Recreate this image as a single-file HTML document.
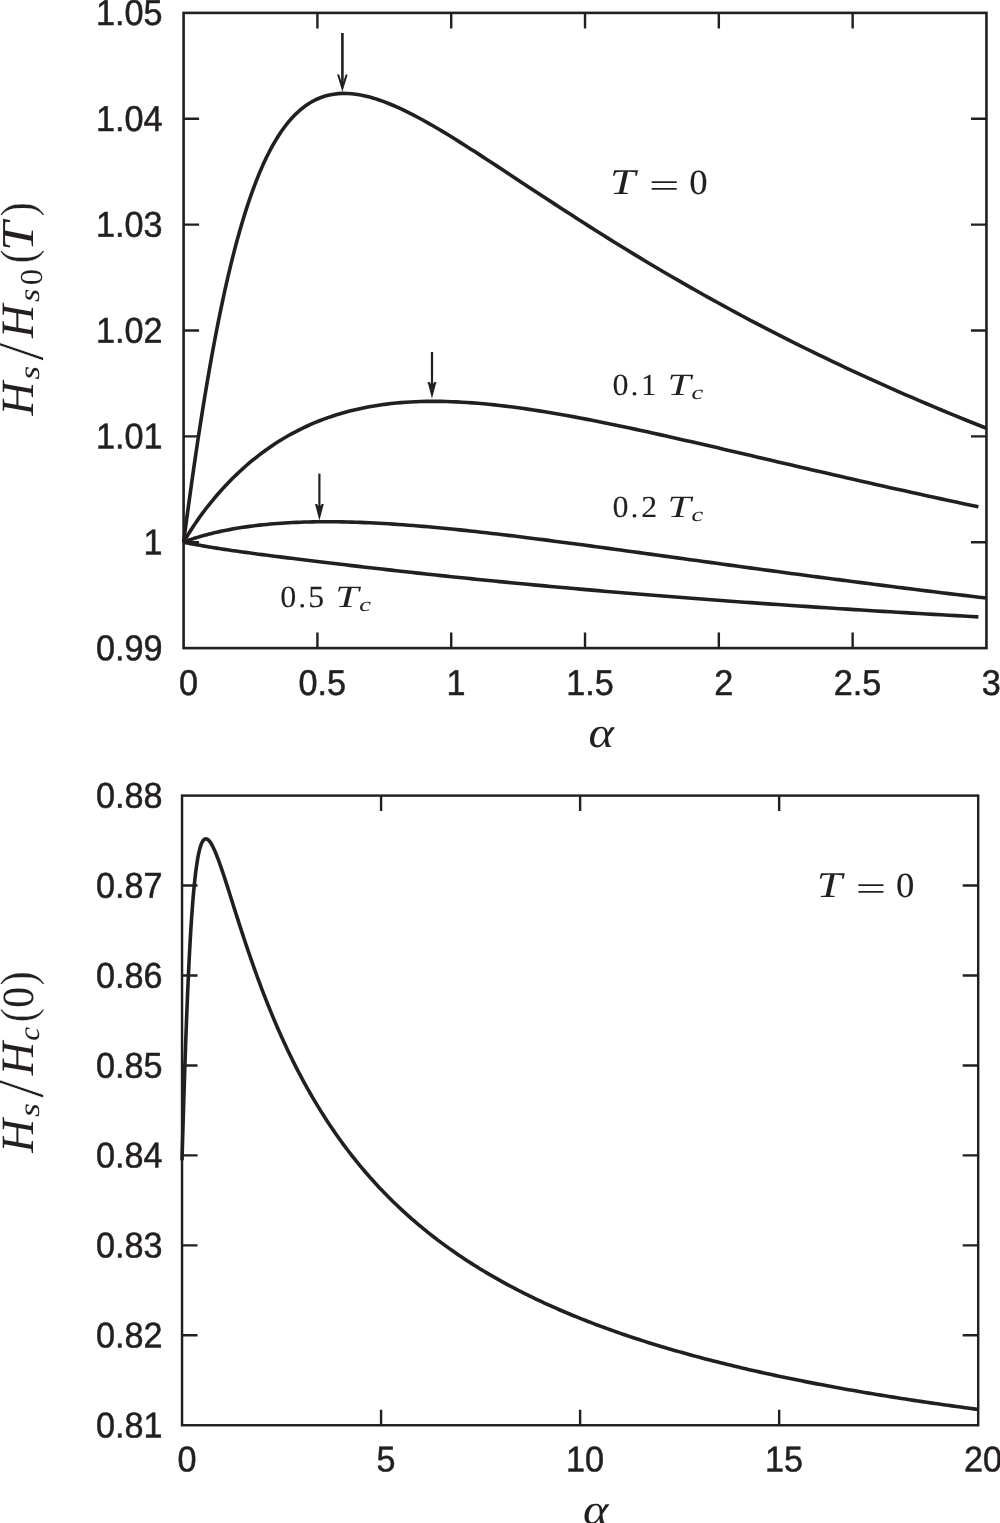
<!DOCTYPE html>
<html lang="en"><head><meta charset="utf-8"><title>Superheating field vs impurity parameter</title>
<style>html,body{margin:0;padding:0;background:#fff}svg{display:block}text{text-rendering:geometricPrecision}.tk,.sa{font-family:"Liberation Sans",sans-serif;fill:#231f20}.tk{font-size:34.2px;stroke:#231f20;stroke-width:0.5px}.se{font-family:"Liberation Serif",serif;fill:#231f20}.it{font-style:italic}.ax{stroke:#231f20;stroke-width:2.6;fill:none}.ti{stroke:#231f20;stroke-width:2.4;fill:none}.cv{stroke:#231f20;stroke-width:3.6;fill:none;stroke-linejoin:round;stroke-linecap:butt}.ar{stroke:#231f20;stroke-width:2.4;fill:none}.ah{fill:#231f20}</style></head><body>
<svg width="1000" height="1523" viewBox="0 0 1000 1523">
<rect width="1000" height="1523" fill="#fff"/>
<rect class="ax" x="183.6" y="12.9" width="802.85" height="635.20"/>
<path class="ti" d="M317.41,12.9v15.5M317.41,648.1v-15.5M451.22,12.9v15.5M451.22,648.1v-15.5M585.02,12.9v15.5M585.02,648.1v-15.5M718.83,12.9v15.5M718.83,648.1v-15.5M852.64,12.9v15.5M852.64,648.1v-15.5M183.6,118.77h15.5M986.45,118.77h-15.5M183.6,224.63h15.5M986.45,224.63h-15.5M183.6,330.50h15.5M986.45,330.50h-15.5M183.6,436.37h15.5M986.45,436.37h-15.5M183.6,542.23h15.5M986.45,542.23h-15.5"/>
<text class="tk" transform="matrix(1,0.0006,0,1.048,162.50,25.13)" text-anchor="end">1.05</text>
<text class="tk" transform="matrix(1,0.0006,0,1.048,162.50,131.00)" text-anchor="end">1.04</text>
<text class="tk" transform="matrix(1,0.0006,0,1.048,162.50,236.86)" text-anchor="end">1.03</text>
<text class="tk" transform="matrix(1,0.0006,0,1.048,162.50,342.73)" text-anchor="end">1.02</text>
<text class="tk" transform="matrix(1,0.0006,0,1.048,162.50,448.60)" text-anchor="end">1.01</text>
<text class="tk" transform="matrix(1,0.0006,0,1.048,162.50,554.46)" text-anchor="end">1</text>
<text class="tk" transform="matrix(1,0.0006,0,1.048,162.50,660.33)" text-anchor="end">0.99</text>
<text class="tk" transform="matrix(1,0.0006,0,1.048,188.50,694.95)" text-anchor="middle">0</text>
<text class="tk" transform="matrix(1,0.0006,0,1.048,322.31,694.95)" text-anchor="middle">0.5</text>
<text class="tk" transform="matrix(1,0.0006,0,1.048,456.12,694.95)" text-anchor="middle">1</text>
<text class="tk" transform="matrix(1,0.0006,0,1.048,589.92,694.95)" text-anchor="middle">1.5</text>
<text class="tk" transform="matrix(1,0.0006,0,1.048,723.73,694.95)" text-anchor="middle">2</text>
<text class="tk" transform="matrix(1,0.0006,0,1.048,857.54,694.95)" text-anchor="middle">2.5</text>
<text class="tk" transform="matrix(1,0.0006,0,1.048,991.35,694.95)" text-anchor="middle">3</text>
<path class="cv" d="M183.60,542.23 L184.00,539.17 L184.73,533.60 L185.68,526.45 L186.80,518.06 L188.08,508.66 L189.49,498.39 L191.02,487.39 L192.66,475.77 L194.41,463.63 L196.26,451.04 L198.21,438.09 L200.25,424.86 L202.37,411.40 L204.58,397.79 L206.86,384.10 L209.23,370.37 L211.67,356.66 L214.18,343.03 L216.76,329.52 L219.42,316.18 L222.14,303.05 L224.92,290.17 L227.77,277.58 L230.68,265.31 L233.66,253.38 L236.69,241.83 L239.78,230.67 L242.93,219.93 L246.14,209.61 L249.40,199.74 L252.72,190.33 L256.09,181.37 L259.51,172.88 L262.99,164.86 L266.52,157.31 L270.10,150.23 L273.72,143.62 L277.40,137.46 L281.13,131.76 L284.90,126.50 L288.73,121.68 L292.60,117.28 L296.51,113.30 L300.47,109.73 L304.48,106.55 L308.53,103.74 L312.63,101.31 L316.77,99.23 L320.95,97.48 L325.18,96.07 L329.45,94.97 L333.76,94.17 L338.11,93.66 L342.50,93.42 L346.94,93.44 L351.41,93.72 L355.93,94.23 L360.48,94.96 L365.07,95.91 L369.71,97.06 L374.38,98.40 L379.09,99.93 L383.84,101.62 L388.63,103.48 L393.45,105.49 L398.31,107.64 L403.21,109.93 L408.14,112.34 L413.12,114.87 L418.12,117.52 L423.17,120.26 L428.25,123.11 L433.36,126.04 L438.51,129.06 L443.69,132.16 L448.91,135.33 L454.17,138.57 L459.45,141.88 L464.78,145.24 L470.13,148.65 L475.52,152.11 L480.94,155.62 L486.40,159.17 L491.89,162.76 L497.41,166.38 L502.96,170.04 L508.55,173.72 L514.17,177.43 L519.82,181.16 L525.50,184.91 L531.22,188.67 L536.96,192.45 L542.74,196.25 L548.55,200.05 L554.39,203.87 L560.26,207.69 L566.16,211.52 L572.09,215.35 L578.05,219.19 L584.04,223.02 L590.06,226.86 L596.11,230.69 L602.20,234.52 L608.31,238.35 L614.45,242.17 L620.62,245.98 L626.81,249.79 L633.04,253.59 L639.30,257.39 L645.58,261.17 L651.90,264.95 L658.24,268.71 L664.61,272.46 L671.01,276.21 L677.44,279.93 L683.89,283.65 L690.38,287.35 L696.89,291.04 L703.43,294.72 L709.99,298.38 L716.59,302.03 L723.21,305.66 L729.86,309.28 L736.53,312.88 L743.23,316.47 L749.96,320.04 L756.72,323.59 L763.50,327.13 L770.31,330.65 L777.15,334.15 L784.01,337.64 L790.89,341.11 L797.81,344.57 L804.75,348.00 L811.72,351.42 L818.71,354.82 L825.72,358.21 L832.77,361.58 L839.84,364.93 L846.93,368.26 L854.05,371.58 L861.20,374.87 L868.37,378.15 L875.56,381.42 L882.78,384.66 L890.03,387.89 L897.30,391.10 L904.59,394.30 L911.91,397.47 L919.26,400.63 L926.63,403.77 L934.02,406.90 L941.44,410.00 L948.88,413.09 L956.35,416.17 L963.84,419.22 L971.35,422.26 L978.89,425.28 L986.45,428.29"/>
<path class="cv" d="M183.60,542.23 L184.00,541.53 L184.72,540.27 L185.66,538.65 L186.77,536.78 L188.03,534.69 L189.43,532.43 L190.94,530.03 L192.57,527.50 L194.30,524.88 L196.14,522.17 L198.06,519.39 L200.08,516.55 L202.18,513.66 L204.37,510.73 L206.63,507.77 L208.97,504.78 L211.39,501.78 L213.87,498.77 L216.43,495.75 L219.06,492.73 L221.75,489.71 L224.51,486.71 L227.33,483.71 L230.21,480.74 L233.15,477.79 L236.16,474.86 L239.22,471.97 L242.34,469.10 L245.51,466.27 L248.74,463.48 L252.02,460.73 L255.36,458.03 L258.75,455.37 L262.19,452.77 L265.69,450.21 L269.23,447.71 L272.82,445.26 L276.46,442.87 L280.15,440.54 L283.89,438.27 L287.67,436.06 L291.50,433.92 L295.38,431.84 L299.30,429.82 L303.27,427.88 L307.28,426.00 L311.33,424.19 L315.43,422.45 L319.57,420.78 L323.76,419.17 L327.98,417.64 L332.25,416.18 L336.56,414.79 L340.91,413.47 L345.30,412.22 L349.73,411.04 L354.20,409.94 L358.71,408.90 L363.26,407.93 L367.84,407.03 L372.47,406.20 L377.13,405.44 L381.83,404.75 L386.57,404.12 L391.35,403.56 L396.16,403.06 L401.01,402.63 L405.89,402.27 L410.81,401.96 L415.77,401.72 L420.76,401.54 L425.79,401.42 L430.86,401.36 L435.95,401.36 L441.09,401.41 L446.25,401.52 L451.45,401.69 L456.69,401.91 L461.96,402.18 L467.26,402.50 L472.59,402.87 L477.96,403.30 L483.36,403.77 L488.80,404.29 L494.26,404.85 L499.76,405.46 L505.29,406.11 L510.85,406.80 L516.45,407.53 L522.07,408.31 L527.73,409.12 L533.42,409.97 L539.14,410.86 L544.89,411.78 L550.67,412.73 L556.48,413.72 L562.32,414.75 L568.19,415.80 L574.09,416.88 L580.03,417.99 L585.99,419.13 L591.98,420.30 L598.00,421.49 L604.05,422.71 L610.13,423.95 L616.23,425.21 L622.37,426.50 L628.54,427.81 L634.73,429.13 L640.95,430.48 L647.20,431.85 L653.48,433.23 L659.79,434.63 L666.12,436.05 L672.49,437.48 L678.88,438.92 L685.30,440.39 L691.74,441.86 L698.22,443.35 L704.72,444.84 L711.24,446.35 L717.80,447.87 L724.38,449.40 L730.99,450.94 L737.62,452.48 L744.28,454.04 L750.97,455.60 L757.69,457.17 L764.43,458.75 L771.19,460.33 L777.99,461.91 L784.81,463.50 L791.65,465.10 L798.52,466.70 L805.42,468.30 L812.34,469.90 L819.29,471.51 L826.26,473.12 L833.26,474.73 L840.28,476.35 L847.33,477.96 L854.40,479.57 L861.50,481.19 L868.62,482.80 L875.77,484.42 L882.94,486.03 L890.14,487.64 L897.36,489.25 L904.61,490.86 L911.88,492.47 L919.18,494.07 L926.50,495.67 L933.84,497.27 L941.21,498.87 L948.60,500.46 L956.01,502.05 L963.45,503.64 L970.91,505.22 L978.40,506.80"/>
<path class="cv" d="M183.60,542.23 L184.00,542.07 L184.73,541.78 L185.68,541.41 L186.80,540.98 L188.08,540.50 L189.49,539.99 L191.02,539.46 L192.66,538.89 L194.41,538.31 L196.26,537.72 L198.21,537.12 L200.25,536.50 L202.37,535.89 L204.58,535.27 L206.86,534.65 L209.23,534.04 L211.67,533.42 L214.18,532.82 L216.76,532.22 L219.42,531.62 L222.14,531.04 L224.92,530.47 L227.77,529.91 L230.68,529.36 L233.66,528.83 L236.69,528.31 L239.78,527.81 L242.93,527.32 L246.14,526.85 L249.40,526.39 L252.72,525.96 L256.09,525.55 L259.51,525.15 L262.99,524.77 L266.52,524.42 L270.10,524.08 L273.72,523.77 L277.40,523.48 L281.13,523.21 L284.90,522.96 L288.73,522.73 L292.60,522.53 L296.51,522.35 L300.47,522.19 L304.48,522.06 L308.53,521.94 L312.63,521.86 L316.77,521.79 L320.95,521.75 L325.18,521.73 L329.45,521.73 L333.76,521.76 L338.11,521.81 L342.50,521.88 L346.94,521.98 L351.41,522.09 L355.93,522.23 L360.48,522.40 L365.07,522.58 L369.71,522.78 L374.38,523.01 L379.09,523.26 L383.84,523.53 L388.63,523.82 L393.45,524.12 L398.31,524.45 L403.21,524.80 L408.14,525.17 L413.12,525.56 L418.12,525.96 L423.17,526.39 L428.25,526.83 L433.36,527.29 L438.51,527.77 L443.69,528.26 L448.91,528.78 L454.17,529.30 L459.45,529.85 L464.78,530.41 L470.13,530.98 L475.52,531.57 L480.94,532.17 L486.40,532.79 L491.89,533.42 L497.41,534.06 L502.96,534.72 L508.55,535.39 L514.17,536.07 L519.82,536.77 L525.50,537.47 L531.22,538.19 L536.96,538.92 L542.74,539.66 L548.55,540.40 L554.39,541.16 L560.26,541.93 L566.16,542.71 L572.09,543.49 L578.05,544.29 L584.04,545.09 L590.06,545.90 L596.11,546.72 L602.20,547.54 L608.31,548.37 L614.45,549.21 L620.62,550.06 L626.81,550.91 L633.04,551.76 L639.30,552.62 L645.58,553.49 L651.90,554.36 L658.24,555.24 L664.61,556.12 L671.01,557.01 L677.44,557.90 L683.89,558.79 L690.38,559.69 L696.89,560.59 L703.43,561.49 L709.99,562.39 L716.59,563.30 L723.21,564.21 L729.86,565.13 L736.53,566.04 L743.23,566.96 L749.96,567.88 L756.72,568.79 L763.50,569.72 L770.31,570.64 L777.15,571.56 L784.01,572.48 L790.89,573.41 L797.81,574.33 L804.75,575.26 L811.72,576.18 L818.71,577.10 L825.72,578.03 L832.77,578.95 L839.84,579.88 L846.93,580.80 L854.05,581.72 L861.20,582.64 L868.37,583.56 L875.56,584.48 L882.78,585.40 L890.03,586.32 L897.30,587.23 L904.59,588.15 L911.91,589.06 L919.26,589.97 L926.63,590.88 L934.02,591.78 L941.44,592.69 L948.88,593.59 L956.35,594.49 L963.84,595.39 L971.35,596.28 L978.89,597.18 L986.45,598.07"/>
<path class="cv" d="M183.60,542.23 L184.00,542.31 L184.72,542.45 L185.66,542.64 L186.77,542.86 L188.03,543.10 L189.43,543.37 L190.94,543.66 L192.57,543.97 L194.30,544.30 L196.14,544.63 L198.06,544.99 L200.08,545.35 L202.18,545.73 L204.37,546.11 L206.63,546.50 L208.97,546.90 L211.39,547.30 L213.87,547.71 L216.43,548.12 L219.06,548.54 L221.75,548.96 L224.51,549.38 L227.33,549.80 L230.21,550.23 L233.15,550.66 L236.16,551.09 L239.22,551.52 L242.34,551.95 L245.51,552.39 L248.74,552.83 L252.02,553.27 L255.36,553.71 L258.75,554.16 L262.19,554.61 L265.69,555.06 L269.23,555.51 L272.82,555.97 L276.46,556.43 L280.15,556.90 L283.89,557.37 L287.67,557.84 L291.50,558.31 L295.38,558.79 L299.30,559.28 L303.27,559.76 L307.28,560.26 L311.33,560.75 L315.43,561.25 L319.57,561.75 L323.76,562.25 L327.98,562.76 L332.25,563.27 L336.56,563.79 L340.91,564.31 L345.30,564.83 L349.73,565.35 L354.20,565.87 L358.71,566.40 L363.26,566.93 L367.84,567.46 L372.47,568.00 L377.13,568.53 L381.83,569.07 L386.57,569.61 L391.35,570.15 L396.16,570.69 L401.01,571.23 L405.89,571.77 L410.81,572.32 L415.77,572.86 L420.76,573.41 L425.79,573.95 L430.86,574.50 L435.95,575.05 L441.09,575.59 L446.25,576.14 L451.45,576.69 L456.69,577.23 L461.96,577.78 L467.26,578.33 L472.59,578.87 L477.96,579.42 L483.36,579.96 L488.80,580.51 L494.26,581.05 L499.76,581.60 L505.29,582.14 L510.85,582.68 L516.45,583.22 L522.07,583.76 L527.73,584.30 L533.42,584.84 L539.14,585.37 L544.89,585.91 L550.67,586.44 L556.48,586.97 L562.32,587.51 L568.19,588.04 L574.09,588.56 L580.03,589.09 L585.99,589.62 L591.98,590.14 L598.00,590.66 L604.05,591.18 L610.13,591.70 L616.23,592.22 L622.37,592.74 L628.54,593.25 L634.73,593.76 L640.95,594.28 L647.20,594.78 L653.48,595.29 L659.79,595.80 L666.12,596.30 L672.49,596.80 L678.88,597.30 L685.30,597.80 L691.74,598.30 L698.22,598.79 L704.72,599.28 L711.24,599.77 L717.80,600.26 L724.38,600.75 L730.99,601.23 L737.62,601.71 L744.28,602.19 L750.97,602.67 L757.69,603.15 L764.43,603.62 L771.19,604.09 L777.99,604.56 L784.81,605.03 L791.65,605.50 L798.52,605.96 L805.42,606.42 L812.34,606.88 L819.29,607.34 L826.26,607.80 L833.26,608.25 L840.28,608.70 L847.33,609.15 L854.40,609.60 L861.50,610.04 L868.62,610.48 L875.77,610.93 L882.94,611.36 L890.14,611.80 L897.36,612.23 L904.61,612.67 L911.88,613.10 L919.18,613.53 L926.50,613.95 L933.84,614.38 L941.21,614.80 L948.60,615.22 L956.01,615.64 L963.45,616.05 L970.91,616.46 L978.40,616.88"/>
<path class="ar" style="stroke-width:2.6" d="M342.4,33V85.8"/><path class="ah" d="M342.4,91.8l-5.3,-17.4h2.0999999999999996L342.4,84.7l3.2,-10.299999999999999h2.0999999999999996Z"/>
<path class="ar" style="stroke-width:2.2" d="M432.0,352V392.5"/><path class="ah" d="M432.0,398.5l-4.4,-16.5h2.0000000000000004L432.0,385.5l2.4,-3.5h2.0000000000000004Z"/>
<path class="ar" style="stroke-width:2.2" d="M319.4,473.6V514.4"/><path class="ah" d="M319.4,520.4l-4.4,-16.4h2.0000000000000004L319.4,507.4l2.4,-3.3999999999999986h2.0000000000000004Z"/>
<text class="se it" font-size="100" transform="matrix(0.4558,0,0,0.3627,610.11,194.00)">T</text>
<text class="se" font-size="100" transform="matrix(0.5376,0,0,0.3464,649.08,196.84)">=</text>
<text class="se" font-size="100" stroke="#231f20" stroke-width="0.35" vector-effect="non-scaling-stroke" transform="matrix(0.3669,0,0,0.3527,689.23,194.07)">0</text>
<text class="se it" font-size="100" transform="matrix(0.4558,0,0,0.3627,816.81,897.40)">T</text>
<text class="se" font-size="100" transform="matrix(0.5376,0,0,0.3464,855.78,900.24)">=</text>
<text class="se" font-size="100" stroke="#231f20" stroke-width="0.35" vector-effect="non-scaling-stroke" transform="matrix(0.3669,0,0,0.3527,895.93,897.47)">0</text>
<text class="se" font-size="100" stroke="#231f20" stroke-width="0.4" vector-effect="non-scaling-stroke" transform="matrix(0.3200,0,0,0.3084,612.60,395.32)">0</text>
<text class="se" font-size="100" transform="matrix(0.3200,0,0,0.2880,630.60,395.15)">.</text>
<text class="se" font-size="100" stroke="#231f20" stroke-width="0.4" vector-effect="non-scaling-stroke" transform="matrix(0.2987,0,0,0.3066,641.27,395.20)">1</text>
<text class="se it" font-size="100" transform="matrix(0.4196,0,0,0.3109,667.58,395.00)">T</text>
<text class="se it" font-size="100" stroke="#231f20" stroke-width="0.3" vector-effect="non-scaling-stroke" transform="matrix(0.2631,0,0,0.1980,691.54,399.34)">c</text>
<text class="se" font-size="100" stroke="#231f20" stroke-width="0.4" vector-effect="non-scaling-stroke" transform="matrix(0.3200,0,0,0.3084,612.60,517.32)">0</text>
<text class="se" font-size="100" transform="matrix(0.3200,0,0,0.2880,630.60,517.15)">.</text>
<text class="se" font-size="100" stroke="#231f20" stroke-width="0.4" vector-effect="non-scaling-stroke" transform="matrix(0.3176,0,0,0.3066,641.21,517.20)">2</text>
<text class="se it" font-size="100" transform="matrix(0.4196,0,0,0.3109,667.58,517.00)">T</text>
<text class="se it" font-size="100" stroke="#231f20" stroke-width="0.3" vector-effect="non-scaling-stroke" transform="matrix(0.2631,0,0,0.1980,691.54,521.34)">c</text>
<text class="se" font-size="100" stroke="#231f20" stroke-width="0.4" vector-effect="non-scaling-stroke" transform="matrix(0.3200,0,0,0.3084,280.20,607.32)">0</text>
<text class="se" font-size="100" transform="matrix(0.3200,0,0,0.2880,298.20,607.15)">.</text>
<text class="se" font-size="100" stroke="#231f20" stroke-width="0.4" vector-effect="non-scaling-stroke" transform="matrix(0.3176,0,0,0.3066,308.31,606.72)">5</text>
<text class="se it" font-size="100" transform="matrix(0.4196,0,0,0.3109,335.18,607.00)">T</text>
<text class="se it" font-size="100" stroke="#231f20" stroke-width="0.3" vector-effect="non-scaling-stroke" transform="matrix(0.2631,0,0,0.1980,359.14,611.34)">c</text>
<text class="se it" font-size="100" transform="matrix(0.4856,0,0,0.4320,588.44,746.73)">α</text>
<text class="se it" font-size="100" transform="matrix(0.4856,0,0,0.4320,583.04,1523.92)">α</text>
<g transform="rotate(-90)">
<text class="se it" font-size="100" transform="matrix(0.4668,0,0,0.4632,-415.47,33.00)">H</text>
<text class="se it" font-size="100" transform="matrix(0.3562,0,0,0.2880,-379.70,39.45)">s</text>
<text class="se" font-size="100" stroke="#fff" stroke-width="1.1" vector-effect="non-scaling-stroke" transform="matrix(0.6613,0,0,0.6618,-360.85,43.32)">/</text>
<text class="se it" font-size="100" transform="matrix(0.4631,0,0,0.4648,-338.08,33.00)">H</text>
<text class="se it" font-size="100" transform="matrix(0.3423,0,0,0.2900,-301.90,39.45)">s</text>
<text class="se" font-size="100" transform="matrix(0.3269,0,0,0.3200,-285.22,42.40)">0</text>
<text class="se" font-size="100" stroke="#fff" stroke-width="0.7" vector-effect="non-scaling-stroke" transform="matrix(0.4089,0,0,0.4871,-263.13,33.50)">(</text>
<text class="se it" font-size="100" transform="matrix(0.5244,0,0,0.4571,-250.98,33.00)">T</text>
<text class="se" font-size="100" stroke="#fff" stroke-width="0.7" vector-effect="non-scaling-stroke" transform="matrix(0.4329,0,0,0.4871,-216.40,33.50)">)</text>
<text class="se it" font-size="100" transform="matrix(0.4668,0,0,0.4632,-1152.67,33.00)">H</text>
<text class="se it" font-size="100" transform="matrix(0.3562,0,0,0.2880,-1116.90,39.45)">s</text>
<text class="se" font-size="100" stroke="#fff" stroke-width="1.1" vector-effect="non-scaling-stroke" transform="matrix(0.6613,0,0,0.6618,-1098.05,43.32)">/</text>
<text class="se it" font-size="100" transform="matrix(0.4631,0,0,0.4648,-1075.28,33.00)">H</text>
<text class="se it" font-size="100" transform="matrix(0.3129,0,0,0.2900,-1040.69,39.25)">c</text>
<text class="se" font-size="100" stroke="#fff" stroke-width="0.7" vector-effect="non-scaling-stroke" transform="matrix(0.4196,0,0,0.4881,-1022.26,33.57)">(</text>
<text class="se" font-size="100" transform="matrix(0.4183,0,0,0.4451,-1007.81,33.30)">0</text>
<text class="se" font-size="100" stroke="#fff" stroke-width="0.7" vector-effect="non-scaling-stroke" transform="matrix(0.4292,0,0,0.4881,-985.59,33.57)">)</text>
</g>
<rect class="ax" x="182.04" y="795.6" width="796.16" height="629.65" style="stroke-width:2.45"/>
<path class="ti" d="M381.08,795.6v15.5M381.08,1425.25v-15.5M580.12,795.6v15.5M580.12,1425.25v-15.5M779.16,795.6v15.5M779.16,1425.25v-15.5M182.04,885.55h15.5M978.2,885.55h-15.5M182.04,975.50h15.5M978.2,975.50h-15.5M182.04,1065.45h15.5M978.2,1065.45h-15.5M182.04,1155.40h15.5M978.2,1155.40h-15.5M182.04,1245.35h15.5M978.2,1245.35h-15.5M182.04,1335.30h15.5M978.2,1335.30h-15.5"/>
<text class="tk" transform="matrix(1,0.0006,0,1.048,162.50,807.83)" text-anchor="end">0.88</text>
<text class="tk" transform="matrix(1,0.0006,0,1.048,162.50,897.78)" text-anchor="end">0.87</text>
<text class="tk" transform="matrix(1,0.0006,0,1.048,162.50,987.73)" text-anchor="end">0.86</text>
<text class="tk" transform="matrix(1,0.0006,0,1.048,162.50,1077.68)" text-anchor="end">0.85</text>
<text class="tk" transform="matrix(1,0.0006,0,1.048,162.50,1167.63)" text-anchor="end">0.84</text>
<text class="tk" transform="matrix(1,0.0006,0,1.048,162.50,1257.58)" text-anchor="end">0.83</text>
<text class="tk" transform="matrix(1,0.0006,0,1.048,162.50,1347.53)" text-anchor="end">0.82</text>
<text class="tk" transform="matrix(1,0.0006,0,1.048,162.50,1437.48)" text-anchor="end">0.81</text>
<text class="tk" transform="matrix(1,0.0006,0,1.048,186.94,1471.60)" text-anchor="middle">0</text>
<text class="tk" transform="matrix(1,0.0006,0,1.048,385.98,1471.60)" text-anchor="middle">5</text>
<text class="tk" transform="matrix(1,0.0006,0,1.048,585.02,1471.60)" text-anchor="middle">10</text>
<text class="tk" transform="matrix(1,0.0006,0,1.048,784.06,1471.60)" text-anchor="middle">15</text>
<text class="tk" transform="matrix(1,0.0006,0,1.048,983.10,1471.60)" text-anchor="middle">20</text>
<path class="cv" d="M182.01,1160.30 L182.04,1159.00 L182.04,1158.94 L182.05,1158.75 L182.06,1158.40 L182.07,1157.88 L182.09,1157.17 L182.12,1156.27 L182.15,1155.17 L182.19,1153.87 L182.23,1152.36 L182.28,1150.63 L182.34,1148.69 L182.40,1146.53 L182.47,1144.15 L182.54,1141.55 L182.62,1138.73 L182.71,1135.68 L182.81,1132.41 L182.91,1128.91 L183.02,1125.20 L183.14,1121.26 L183.26,1117.11 L183.40,1112.75 L183.54,1108.18 L183.68,1103.40 L183.84,1098.42 L184.00,1093.25 L184.17,1087.89 L184.34,1082.36 L184.53,1076.65 L184.72,1070.79 L184.92,1064.77 L185.13,1058.61 L185.35,1052.33 L185.57,1045.92 L185.81,1039.41 L186.05,1032.81 L186.30,1026.13 L186.55,1019.39 L186.82,1012.60 L187.09,1005.77 L187.37,998.92 L187.66,992.07 L187.96,985.23 L188.27,978.42 L188.59,971.65 L188.91,964.93 L189.24,958.29 L189.58,951.73 L189.93,945.28 L190.29,938.94 L190.66,932.72 L191.04,926.65 L191.42,920.73 L191.82,914.97 L192.22,909.38 L192.63,903.97 L193.05,898.75 L193.48,893.74 L193.92,888.92 L194.37,884.32 L194.82,879.94 L195.29,875.77 L195.76,871.83 L196.25,868.11 L196.74,864.63 L197.24,861.37 L197.75,858.34 L198.27,855.54 L198.80,852.97 L199.34,850.62 L199.89,848.50 L200.45,846.60 L201.01,844.92 L201.59,843.45 L202.18,842.20 L202.77,841.15 L203.38,840.30 L203.99,839.65 L204.62,839.20 L205.25,838.93 L205.89,838.84 L206.54,838.92 L207.21,839.18 L207.88,839.60 L208.56,840.18 L209.25,840.92 L209.95,841.80 L210.66,842.82 L211.38,843.98 L212.11,845.28 L212.85,846.69 L213.60,848.23 L214.36,849.88 L215.13,851.65 L215.91,853.51 L216.70,855.48 L217.50,857.54 L218.31,859.69 L219.13,861.93 L219.96,864.25 L220.80,866.65 L221.65,869.11 L222.51,871.65 L223.38,874.26 L224.26,876.92 L225.15,879.64 L226.05,882.42 L226.96,885.25 L227.88,888.12 L228.81,891.04 L229.75,894.01 L230.70,897.01 L231.66,900.04 L232.63,903.11 L233.61,906.22 L234.60,909.35 L235.60,912.50 L236.62,915.68 L237.64,918.89 L238.67,922.11 L239.72,925.35 L240.77,928.60 L241.83,931.87 L242.91,935.16 L243.99,938.45 L245.09,941.75 L246.19,945.07 L247.31,948.38 L248.44,951.71 L249.58,955.03 L250.72,958.36 L251.88,961.69 L253.05,965.02 L254.23,968.35 L255.42,971.68 L256.62,975.01 L257.84,978.33 L259.06,981.65 L260.29,984.96 L261.54,988.27 L262.79,991.57 L264.06,994.86 L265.33,998.15 L266.62,1001.42 L267.92,1004.69 L269.22,1007.95 L270.54,1011.19 L271.87,1014.43 L273.21,1017.65 L274.57,1020.86 L275.93,1024.06 L277.30,1027.24 L278.69,1030.42 L280.08,1033.57 L281.49,1036.72 L282.90,1039.85 L284.33,1042.97 L285.77,1046.07 L287.22,1049.15 L288.68,1052.22 L290.15,1055.28 L291.64,1058.32 L293.13,1061.34 L294.63,1064.35 L296.15,1067.34 L297.68,1070.32 L299.22,1073.27 L300.76,1076.21 L302.32,1079.14 L303.90,1082.04 L305.48,1084.93 L307.07,1087.81 L308.68,1090.66 L310.29,1093.50 L311.92,1096.32 L313.56,1099.12 L315.21,1101.91 L316.87,1104.68 L318.54,1107.43 L320.22,1110.16 L321.92,1112.87 L323.62,1115.57 L325.34,1118.25 L327.07,1120.91 L328.81,1123.55 L330.56,1126.18 L332.32,1128.79 L334.10,1131.38 L335.88,1133.95 L337.68,1136.51 L339.49,1139.05 L341.31,1141.57 L343.14,1144.07 L344.98,1146.56 L346.83,1149.03 L348.70,1151.48 L350.57,1153.91 L352.46,1156.33 L354.36,1158.73 L356.27,1161.11 L358.19,1163.48 L360.13,1165.83 L362.07,1168.16 L364.03,1170.47 L366.00,1172.77 L367.98,1175.05 L369.97,1177.32 L371.97,1179.57 L373.99,1181.80 L376.01,1184.02 L378.05,1186.22 L380.10,1188.40 L382.16,1190.57 L384.23,1192.72 L386.32,1194.86 L388.42,1196.98 L390.52,1199.08 L392.64,1201.17 L394.77,1203.24 L396.92,1205.30 L399.07,1207.35 L401.24,1209.37 L403.42,1211.39 L405.61,1213.38 L407.81,1215.37 L410.02,1217.33 L412.25,1219.29 L414.48,1221.23 L416.73,1223.15 L418.99,1225.06 L421.26,1226.96 L423.55,1228.84 L425.85,1230.70 L428.15,1232.56 L430.47,1234.40 L432.80,1236.22 L435.15,1238.03 L437.50,1239.83 L439.87,1241.62 L442.25,1243.39 L444.64,1245.15 L447.04,1246.89 L449.46,1248.62 L451.89,1250.34 L454.33,1252.05 L456.78,1253.74 L459.24,1255.42 L461.72,1257.09 L464.20,1258.74 L466.70,1260.38 L469.21,1262.01 L471.74,1263.63 L474.27,1265.24 L476.82,1266.83 L479.38,1268.41 L481.95,1269.98 L484.53,1271.54 L487.13,1273.09 L489.73,1274.62 L492.35,1276.15 L494.99,1277.66 L497.63,1279.16 L500.29,1280.65 L502.95,1282.13 L505.63,1283.59 L508.33,1285.05 L511.03,1286.50 L513.75,1287.93 L516.48,1289.36 L519.22,1290.77 L521.97,1292.17 L524.74,1293.57 L527.52,1294.95 L530.31,1296.32 L533.11,1297.68 L535.92,1299.03 L538.75,1300.37 L541.59,1301.71 L544.44,1303.03 L547.30,1304.34 L550.18,1305.64 L553.07,1306.94 L555.97,1308.22 L558.88,1309.49 L561.81,1310.76 L564.75,1312.01 L567.70,1313.26 L570.66,1314.50 L573.63,1315.73 L576.62,1316.94 L579.62,1318.15 L582.63,1319.36 L585.66,1320.55 L588.69,1321.73 L591.74,1322.91 L594.80,1324.07 L597.88,1325.23 L600.96,1326.38 L604.06,1327.52 L607.17,1328.66 L610.30,1329.78 L613.44,1330.90 L616.58,1332.01 L619.75,1333.11 L622.92,1334.20 L626.11,1335.29 L629.30,1336.37 L632.52,1337.43 L635.74,1338.50 L638.98,1339.55 L642.23,1340.60 L645.49,1341.64 L648.76,1342.67 L652.05,1343.69 L655.35,1344.71 L658.66,1345.72 L661.98,1346.73 L665.32,1347.72 L668.67,1348.71 L672.03,1349.69 L675.41,1350.67 L678.80,1351.64 L682.20,1352.60 L685.61,1353.55 L689.03,1354.50 L692.47,1355.44 L695.92,1356.38 L699.39,1357.30 L702.86,1358.23 L706.35,1359.14 L709.85,1360.05 L713.37,1360.95 L716.90,1361.85 L720.44,1362.74 L723.99,1363.62 L727.55,1364.50 L731.13,1365.37 L734.72,1366.24 L738.33,1367.10 L741.94,1367.95 L745.57,1368.80 L749.22,1369.64 L752.87,1370.48 L756.54,1371.31 L760.22,1372.13 L763.91,1372.95 L767.62,1373.77 L771.34,1374.58 L775.07,1375.38 L778.81,1376.18 L782.57,1376.97 L786.34,1377.76 L790.13,1378.54 L793.92,1379.31 L797.73,1380.08 L801.55,1380.85 L805.39,1381.61 L809.24,1382.37 L813.10,1383.12 L816.97,1383.86 L820.86,1384.60 L824.76,1385.34 L828.67,1386.07 L832.59,1386.79 L836.53,1387.52 L840.48,1388.23 L844.45,1388.94 L848.42,1389.65 L852.42,1390.35 L856.42,1391.05 L860.43,1391.74 L864.46,1392.43 L868.51,1393.12 L872.56,1393.79 L876.63,1394.47 L880.71,1395.14 L884.81,1395.81 L888.91,1396.47 L893.03,1397.13 L897.17,1397.78 L901.31,1398.43 L905.47,1399.07 L909.65,1399.71 L913.83,1400.35 L918.03,1400.98 L922.25,1401.61 L926.47,1402.24 L930.71,1402.86 L934.96,1403.47 L939.23,1404.08 L943.50,1404.69 L947.79,1405.30 L952.10,1405.90 L956.42,1406.50 L960.75,1407.09 L965.09,1407.68 L969.45,1408.26 L973.82,1408.85 L978.20,1409.42"/>
</svg></body></html>
